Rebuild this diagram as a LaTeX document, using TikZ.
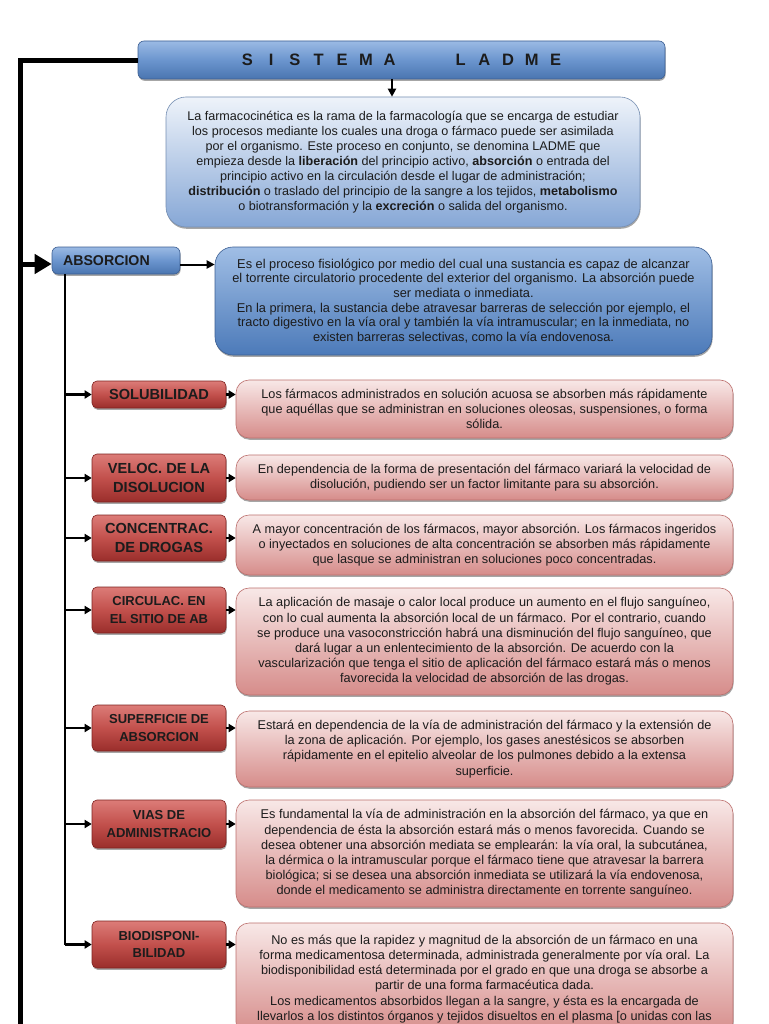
\documentclass[tikz,border=0pt]{standalone}
\usepackage{fontspec}
\setmainfont{Liberation Sans}
\usetikzlibrary{arrows.meta,shadows}
\definecolor{ttlT}{HTML}{9BBAE4}
\definecolor{ttlM}{HTML}{6B95CE}
\definecolor{ttlB}{HTML}{4A75B0}
\definecolor{blueborder}{HTML}{3C5F93}
\definecolor{introT}{HTML}{EEF3FA}
\definecolor{introB}{HTML}{86A7D6}
\definecolor{bbT}{HTML}{A0BEE5}
\definecolor{bbB}{HTML}{4C7AB9}
\definecolor{redT}{HTML}{DC7C78}
\definecolor{redM}{HTML}{C2504C}
\definecolor{redB}{HTML}{9A2E2B}
\definecolor{redborder}{HTML}{7E2220}
\definecolor{pinkT}{HTML}{F8E8E7}
\definecolor{pinkB}{HTML}{D68C8A}
\definecolor{pinkborder}{HTML}{BC6F6D}
\definecolor{txt}{HTML}{1C1C1C}
\begin{document}
\begin{tikzpicture}[x=1pt,y=-1pt,
  shadowed/.style={drop shadow={shadow xshift=0.6pt,shadow yshift=-1.8pt,fill=black,opacity=0.35}},
  ttlbox/.style={draw=blueborder,line width=0.6pt,rounded corners=6pt,top color=ttlT,bottom color=ttlB,middle color=ttlM,
    minimum width=527pt,minimum height=38pt,inner sep=0pt,font=\bfseries\fontsize{16.5}{19}\selectfont,text=txt,shadowed},
  introbox/.style={draw=blueborder!70,line width=0.6pt,rounded corners=20pt,top color=introT,bottom color=introB,
    minimum width=474pt,minimum height=130pt,inner sep=0pt,align=center,font=\fontsize{12.6}{14.9}\selectfont,text=txt,shadowed},
  absbox/.style={draw=blueborder,line width=0.6pt,rounded corners=6pt,top color=ttlT,bottom color=ttlB,middle color=ttlM,
    text width=106pt,inner xsep=11pt,inner ysep=0pt,minimum height=27pt,align=left,font=\bfseries\fontsize{14.2}{17}\selectfont,text=txt,shadowed},
  bluebox/.style={draw=blueborder,line width=0.6pt,rounded corners=18pt,top color=bbT,bottom color=bbB,
    minimum width=497pt,inner sep=0pt,align=center,font=\fontsize{12.8}{14.6}\selectfont,text=txt,shadowed},
  redbox/.style={draw=redborder,line width=0.6pt,rounded corners=5pt,top color=redT,bottom color=redB,middle color=redM,
    minimum width=134pt,inner sep=0pt,align=center,text=txt,shadowed},
  bigl/.style={font=\bfseries\fontsize{14.6}{19.5}\selectfont},
  smalll/.style={font=\bfseries\fontsize{13}{17.5}\selectfont},
  pinkbox/.style={draw=pinkborder,line width=0.6pt,rounded corners=13pt,top color=pinkT,bottom color=pinkB,
    minimum width=497pt,inner sep=0pt,align=center,font=\fontsize{12.7}{15.2}\selectfont,text=txt,shadowed},
  spine/.style={line width=5pt},
  conn/.style={line width=2.6pt,-{Triangle[length=7pt,width=8pt]}},
  thinarr/.style={line width=2pt,-{Triangle[length=8pt,width=8pt]}},
  bigarr/.style={line width=5pt,-{Triangle[length=17pt,width=19pt]}}
]
\path[use as bounding box] (0,0) rectangle (768,1024);
\clip (0,0) rectangle (768,1024);
\fill[white] (0,0) rectangle (768,1024);

% title and intro
\newcommand{\tl}[1]{\makebox[23.7pt]{#1}}
\node[ttlbox] (title) at (401.5,60) {\tl{S}\tl{I}\tl{S}\tl{T}\tl{E}\tl{M}\tl{A}\tl{}\tl{}\tl{L}\tl{A}\tl{D}\tl{M}\tl{E}};
\node[introbox] (intro) at (403,162) {La farmacocinética es la rama de la farmacología que se encarga de estudiar\\
los procesos mediante los cuales una droga o fármaco puede ser asimilada\\
por el organismo. Este proceso en conjunto, se denomina LADME que\\
empieza desde la \textbf{liberación} del principio activo, \textbf{absorción} o entrada del\\
principio activo en la circulación desde el lugar de administración;\\
\textbf{distribución} o traslado del principio de la sangre a los tejidos, \textbf{metabolismo}\\
o biotransformación y la \textbf{excreción} o salida del organismo.};
\coordinate (tarr) at (392,79);
\draw[thinarr] (tarr) -- (tarr |- intro.north);

% absorcion
\node[absbox] (abs) at (116,260.5) {ABSORCION};
\node[bluebox,minimum height=108pt] (absd) at (463.5,301) {Es el proceso fisiológico por medio del cual una sustancia es capaz de alcanzar\\
el torrente circulatorio procedente del exterior del organismo. La absorción puede\\
ser mediata o inmediata.\\
En la primera, la sustancia debe atravesar barreras de selección por ejemplo, el\\
tracto digestivo en la vía oral y también la vía intramuscular; en la inmediata, no\\
existen barreras selectivas, como la vía endovenosa.};
\draw[thinarr] ([yshift=-4pt]abs.east) -- ([yshift=-4pt]abs.east -| absd.west);

% main spine
\coordinate (L1) at (20,61);
\coordinate (L2) at (20,1040);
\draw[spine] (title.west |- L1) -- (L1) -- (L2);
\draw[bigarr] (L1 |- 0,264) -- (abs.west |- 0,264);

% red labels
\node[redbox,bigl,minimum height=27pt] (r1) at (159,394.5) {SOLUBILIDAD};
\node[redbox,bigl,minimum height=48pt] (r2) at (159,478) {VELOC. DE LA\\DISOLUCION};
\node[redbox,bigl,minimum height=46pt] (r3) at (159,538) {CONCENTRAC.\\DE DROGAS};
\node[redbox,smalll,minimum height=46pt] (r4) at (159,610) {CIRCULAC. EN\\EL SITIO DE AB};
\node[redbox,smalll,minimum height=46pt] (r5) at (159,728) {SUPERFICIE DE\\ABSORCION};
\node[redbox,smalll,minimum height=48pt] (r6) at (159,824) {VIAS DE\\ADMINISTRACIO};
\node[redbox,smalll,minimum height=47pt] (r7) at (159,944.5) {BIODISPONI-\\BILIDAD};

% pink text boxes
\node[pinkbox,minimum height=58pt] (p1) at (484.5,409) {Los fármacos administrados en solución acuosa se absorben más rápidamente\\
que aquéllas que se administran en soluciones oleosas, suspensiones, o forma\\
sólida.};
\node[pinkbox,minimum height=45pt] (p2) at (484.5,477.5) {En dependencia de la forma de presentación del fármaco variará la velocidad de\\
disolución, pudiendo ser un factor limitante para su absorción.};
\node[pinkbox,minimum height=60pt] (p3) at (484.5,545) {A mayor concentración de los fármacos, mayor absorción. Los fármacos ingeridos\\
o inyectados en soluciones de alta concentración se absorben más rápidamente\\
que lasque se administran en soluciones poco concentradas.};
\node[pinkbox,minimum height=107pt] (p4) at (484.5,641.5) {La aplicación de masaje o calor local produce un aumento en el flujo sanguíneo,\\
con lo cual aumenta la absorción local de un fármaco. Por el contrario, cuando\\
se produce una vasoconstricción habrá una disminución del flujo sanguíneo, que\\
dará lugar a un enlentecimiento de la absorción. De acuerdo con la\\
vascularización que tenga el sitio de aplicación del fármaco estará más o menos\\
favorecida la velocidad de absorción de las drogas.};
\node[pinkbox,minimum height=76pt] (p5) at (484.5,749) {Estará en dependencia de la vía de administración del fármaco y la extensión de\\
la zona de aplicación. Por ejemplo, los gases anestésicos se absorben\\
rápidamente en el epitelio alveolar de los pulmones debido a la extensa\\
superficie.};
\node[pinkbox,minimum height=107pt] (p6) at (484.5,853.5) {Es fundamental la vía de administración en la absorción del fármaco, ya que en\\
dependencia de ésta la absorción estará más o menos favorecida. Cuando se\\
desea obtener una absorción mediata se emplearán: la vía oral, la subcutánea,\\
la dérmica o la intramuscular porque el fármaco tiene que atravesar la barrera\\
biológica; si se desea una absorción inmediata se utilizará la vía endovenosa,\\
donde el medicamento se administra directamente en torrente sanguíneo.};
\node[pinkbox,minimum height=112pt] (p7) at (484.5,979) {No es más que la rapidez y magnitud de la absorción de un fármaco en una\\
forma medicamentosa determinada, administrada generalmente por vía oral. La\\
biodisponibilidad está determinada por el grado en que una droga se absorbe a\\
partir de una forma farmacéutica dada.\\
Los medicamentos absorbidos llegan a la sangre, y ésta es la encargada de\\
llevarlos a los distintos órganos y tejidos disueltos en el plasma [o unidas con las};

% secondary spine
\coordinate (s1) at (65,274);
\coordinate (s2) at (65,945);
\draw[line width=2.6pt] (s1) -- (s2);
\foreach \r/\p in {r1/p1,r2/p2,r3/p3,r4/p4,r5/p5,r6/p6,r7/p7}{
  \draw[conn] (s1 |- \r.west) -- (\r.west);
  \draw[conn] (\r.east) -- (\r.east -| \p.west);
}
\end{tikzpicture}
\end{document}
